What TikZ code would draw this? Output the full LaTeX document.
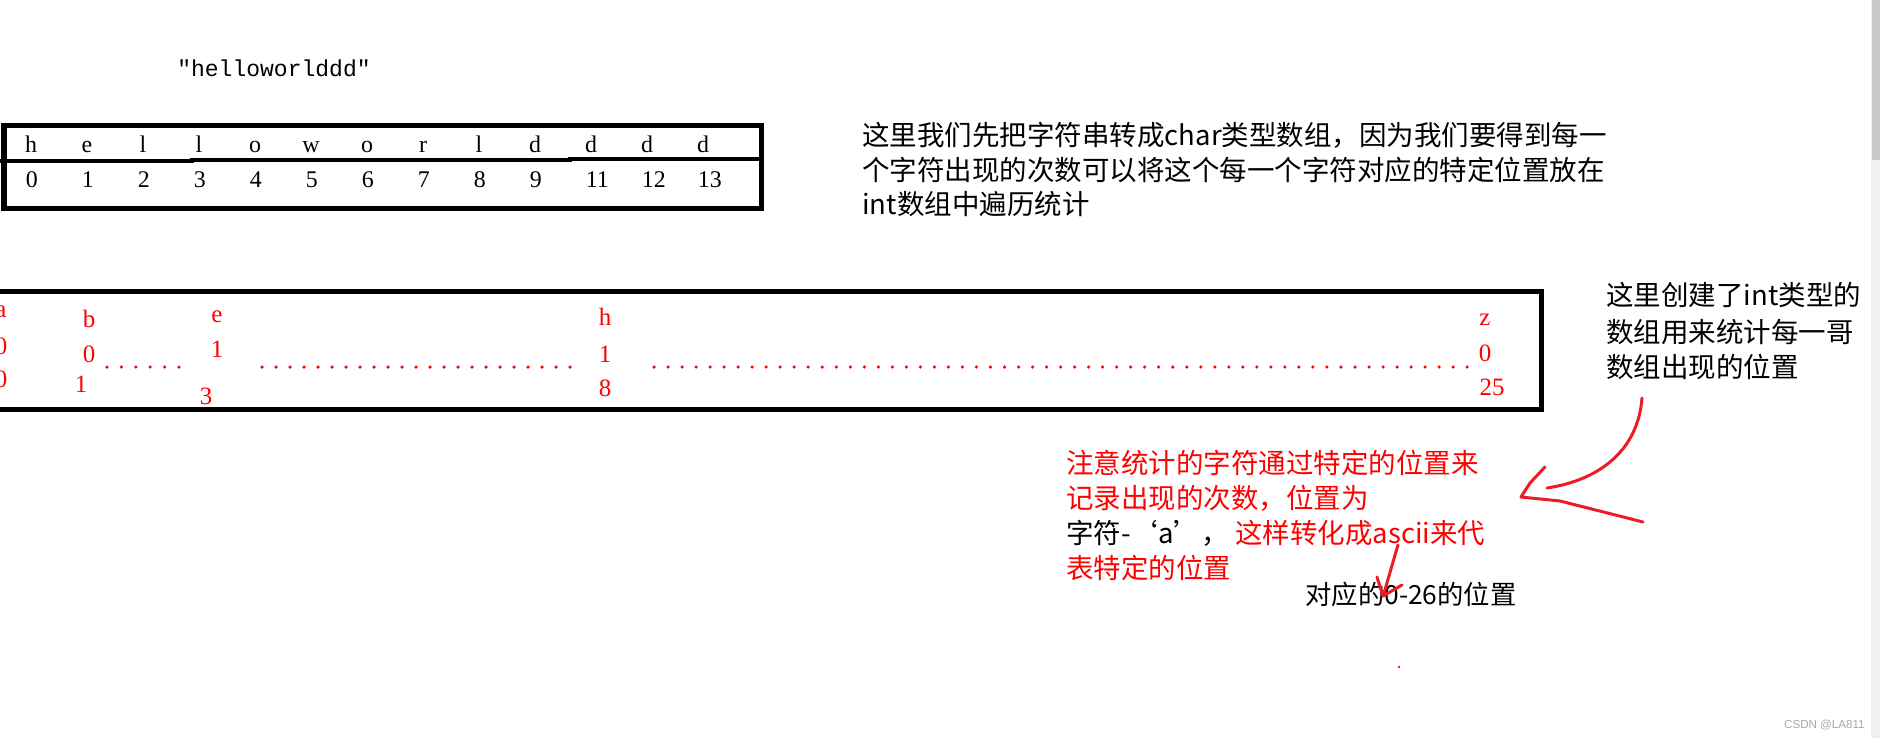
\documentclass[tikz,border=0pt]{standalone}
\usepackage{fontspec}
\setmainfont{Liberation Serif}
\setmonofont{Liberation Mono}
\newfontfamily\cjk{Noto Sans CJK SC}
\newfontfamily\wmfont{Liberation Sans}
\usetikzlibrary{positioning}
\definecolor{paintred}{HTML}{ED1C24}
\definecolor{txtred}{HTML}{FF0000}
\definecolor{scrollgray}{HTML}{F0F0F0}
\definecolor{thumbgray}{HTML}{C8C8C8}

\begin{document}
\begin{tikzpicture}[x=0.02cm, y=-0.02cm,
  boxline/.style={line width=2.85pt},
  midline/.style={line width=2.3pt},
  cell/.style={anchor=base, inner sep=0pt, font=\fontsize{13.6pt}{15pt}\selectfont},
  idx/.style={anchor=base west, inner sep=0pt, font=\fontsize{13.6pt}{15pt}\selectfont},
  redcnt/.style={anchor=base, inner sep=0pt, text=txtred, font=\fontsize{14.2pt}{16pt}\selectfont},
  note/.style={anchor=base west, inner sep=0pt, font=\cjk\fontsize{15.65pt}{20pt}\selectfont},
  rednote/.style={note, text=txtred},
  sketch/.style={draw=paintred, line width=1.7pt, line cap=round, line join=round}]
\useasboundingbox (0,0) rectangle (1880,738);
% scroll bar on the right edge
\fill[scrollgray] (1871,0) rectangle (1880,738);
\fill[thumbgray] (1872,0) rectangle (1880,160);
% the string
\node[inner sep=0pt, anchor=base, font=\ttfamily\fontsize{13.1pt}{15pt}\selectfont] (str) at (274,76) {"helloworlddd"};
% char array with its indices
\draw[boxline] (4,125) rectangle (761.5,208);
\draw[midline] (0,161) -- (192,161) -- (192,160) -- (570,160) -- (570,159) -- (762,159);
\foreach \ch [count=\i from 0] in {h,e,l,l,o,w,o,r,l,d,d,d,d}
  \node[cell] (ch\i) at (31+\i*56,152) {\ch};
\foreach \n [count=\i from 0] in {0,1,2,3,4,5,6,7,8,9,11,12,13}
  \node[idx] (ix\i) at (25.5+\i*56,187) {\n};
% explanation of the char array
\node[note] (why1) at (862,145.5) {这里我们先把字符串转成char类型数组，因为我们要得到每一};
\node[note] (why2) at (862,180.5) {个字符出现的次数可以将这个每一个字符对应的特定位置放在};
\node[note] (why3) at (862,214) {int数组中遍历统计};
% int array of counts
\draw[boxline] (-10,291.5) -- (1541,291.5) -- (1541,409.5) -- (-10,409.5);
\node[redcnt] (la) at (1,317) {a};
\node[redcnt] (ca) at (1,354) {0};
\node[redcnt] (pa) at (1,387) {0};
\node[redcnt] (lb) at (89,327) {b};
\node[redcnt] (cb) at (89,362) {0};
\node[redcnt] (pb) at (81,392) {1};
\node[redcnt] (le) at (217,322) {e};
\node[redcnt] (ce) at (217,357) {1};
\node[redcnt] (pe) at (206,404) {3};
\node[redcnt] (lh) at (605,325) {h};
\node[redcnt] (ch) at (605,362) {1};
\node[redcnt] (ph) at (605,396) {8};
\node[redcnt] (lz) at (1485,325) {z};
\node[redcnt] (cz) at (1485,361) {0};
\node[redcnt] (pz) at (1492,395) {25};
\foreach \i in {0,...,5}
  \fill[txtred] (107+\i*14.4,367) circle[radius=1pt];
\foreach \i in {0,...,22}
  \fill[txtred] (262+\i*14,367) circle[radius=1pt];
\foreach \i in {0,...,58}
  \fill[txtred] (654+\i*14.02,367) circle[radius=1pt];
% explanation of the int array
\node[note] (arr1) at (1606,305.5) {这里创建了int类型的};
\node[note] (arr2) at (1606,342.5) {数组用来统计每一哥};
\node[note] (arr3) at (1606,377.5) {数组出现的位置};
% hand drawn arrow to the red note
\coordinate (bigtail) at (1642,398);
\coordinate (bigend) at (1547,488);
\coordinate (bigtip) at (1521,497);
\draw[sketch] (bigtail) .. controls (1638,450) and (1600,480) .. (bigend);
\draw[sketch] (1545,467) -- (1530,483) -- (bigtip) -- (1560,501) -- (1643,522);
% red note
\node[rednote] (rule1) at (1066,473.5) {注意统计的字符通过特定的位置来};
\node[rednote] (rule2) at (1066,508.5) {记录出现的次数，位置为};
\node[note] (rule3) at (1066,543.5) {字符-‘a’，};
\node[rednote] (rule3b) at (1235,543.5) {这样转化成ascii来代};
\node[rednote] (rule4) at (1066,578.5) {表特定的位置};
\node[note, font=\cjk\fontsize{15pt}{18pt}\selectfont] (range) at (1305,604.4) {对应的0-26的位置};
\coordinate (smalltail) at (1398,545);
\coordinate (smalltip) at (1383,596);
\draw[sketch] (smalltail) .. controls (1392,565) and (1388,580) .. (smalltip);
\draw[sketch] (1377,577) -- (smalltip) -- (1402,585);
\fill[paintred] (1399,667) circle[radius=0.8pt];
% watermark
\node[anchor=base east, inner sep=0pt, text=black!35, font=\wmfont\fontsize{6.6pt}{8pt}\selectfont] (mark) at (1865,728) {CSDN @LA811};
\end{tikzpicture}
\end{document}
